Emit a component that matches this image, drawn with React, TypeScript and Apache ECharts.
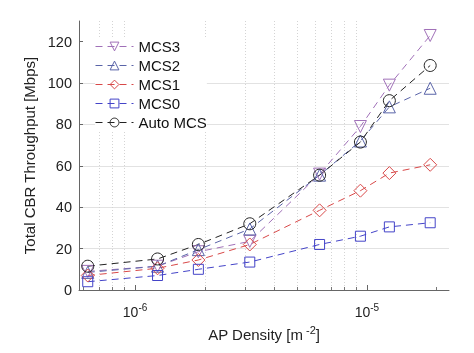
import React, { useEffect, useRef } from "react";
import * as echarts from "echarts";

const apDensity = [6.25e-7, 1.25e-6, 1.875e-6, 3.125e-6, 6.25e-6, 9.375e-6, 1.25e-5, 1.875e-5];
const mcs3 = [9, 11.5, 18.5, 23.5, 56, 79, 99, 123];
const mcs2 = [8.5, 11.5, 19.5, 29.5, 55.5, 72, 88.5, 97.5];
const mcs1 = [7, 10.5, 14.5, 22, 38.5, 48, 56.5, 60.5];
const mcs0 = [4, 7, 10, 13.5, 22, 26, 30.5, 32.5];
const autoMcs = [11.5, 15, 22, 32, 55.5, 71.5, 91.5, 108.5];

const seriesNames = ["MCS3", "MCS2", "MCS1", "MCS0", "Auto MCS"];
const yTicks = [0, 20, 40, 60, 80, 100, 120];
const xMajor = [1e-6, 1e-5];
const xMinor = [6e-7, 7e-7, 8e-7, 9e-7, 2e-6, 3e-6, 4e-6, 5e-6, 6e-6, 7e-6, 8e-6, 9e-6, 2e-5];

export default function App() {
  const ref = useRef<HTMLDivElement>(null);
  useEffect(() => {
    if (!ref.current) return;
    const chart = echarts.init(ref.current, undefined, { renderer: "svg" });
    const font = "Liberation Sans, Arial, sans-serif";
    const mk = (name: string, vals: number[], color: string, symbol: string, size: number, rot = 0) => ({
      name,
      type: "line",
      xAxisIndex: 0,
      data: apDensity.map((x, i) => [x, vals[i]]),
      symbol,
      symbolSize: size,
      symbolRotate: rot,
      lineStyle: { color, width: 1, type: [7, 5] },
      itemStyle: { color: "rgba(255,255,255,0)", borderColor: color, borderWidth: 1 },
      z: 3,
    });
    const xMin = 5.73e-7;
    const xMax = 2.26e-5;
    const option: any = {
      animation: false,
      grid: { left: 79, right: 25, top: 21, bottom: 63 },
      legend: {
        data: seriesNames,
        orient: "vertical",
        left: 95,
        top: 39,
        itemWidth: 38,
        itemHeight: 11,
        itemGap: 4,
        itemTextGap: 5,
        lineStyle: { width: 1 },
        itemStyle: { borderWidth: 1 },
        textStyle: { fontFamily: font, fontSize: 15, color: "#111" },
        backgroundColor: "#fff",
        padding: 0,
        z: 10,
      },
      xAxis: [
        {
          type: "log",
          logBase: 10,
          min: xMin,
          max: xMax,
          position: "bottom",
          name: "{a|AP Density [m}{s|-2}{a|]}",
          nameLocation: "middle",
          nameGap: 34,
          nameTextStyle: {
            fontFamily: font,
            color: "#222",
            rich: {
              a: { fontFamily: font, fontSize: 15, color: "#222" },
              s: { fontFamily: font, fontSize: 11, color: "#222", padding: [0, 0, 9, 3] },
            },
          },
          axisLine: { show: true, lineStyle: { color: "#666", width: 1 } },
          axisTick: {
            show: true,
            inside: true,
            length: 3,
            customValues: xMinor,
            lineStyle: { color: "#777" },
          },
          axisLabel: {
            customValues: xMajor,
            margin: 12,
            formatter: (v: number) => `{b|10}{s|${Math.round(Math.log10(v))}}`,
            rich: {
              b: { fontFamily: font, fontSize: 14, color: "#222" },
              s: { fontFamily: font, fontSize: 10, color: "#222", padding: [0, 0, 9, 0] },
            },
          },
          splitLine: {
            show: true,
            showMinLine: false,
            showMaxLine: false,
            lineStyle: { color: "#d4d4d4", type: [1, 2], width: 1 },
          },
          z: 0,
        },
        {
          type: "log",
          logBase: 10,
          min: xMin,
          max: xMax,
          position: "bottom",
          axisLine: { show: false },
          axisTick: { show: true, inside: true, length: 5, customValues: xMajor, lineStyle: { color: "#666" } },
          axisLabel: { show: false, customValues: xMajor },
          splitLine: {
            show: true,
            showMinLine: false,
            showMaxLine: false,
            lineStyle: { color: "#e0e0e0", type: "solid", width: 1 },
          },
          z: 1,
        },
      ],
      yAxis: {
        type: "value",
        min: 0,
        max: 130,
        interval: 20,
        name: "Total CBR Throughput [Mbps]",
        nameLocation: "middle",
        nameGap: 37,
        nameTextStyle: { fontFamily: font, fontSize: 15, color: "#222" },
        axisLine: { show: true, lineStyle: { color: "#666", width: 1 } },
        axisTick: { show: true, inside: true, length: 4, customValues: yTicks, lineStyle: { color: "#666" } },
        axisLabel: {
          customValues: yTicks,
          margin: 7,
          fontFamily: font,
          fontSize: 14.5,
          color: "#222",
        },
        splitLine: { show: true, showMaxLine: false, showMinLine: false, lineStyle: { color: "#e2e2e2", width: 1 } },
      },
      series: [
        mk("MCS3", mcs3, "#a070b8", "triangle", 12, 180),
        mk("MCS2", mcs2, "#5a64a8", "triangle", 12),
        mk("MCS1", mcs1, "#d84848", "diamond", 13),
        mk("MCS0", mcs0, "#4444c8", "rect", 10),
        mk("Auto MCS", autoMcs, "#222222", "circle", 12),
      ],
    };
    chart.setOption(option);
    return () => chart.dispose();
  }, []);
  return <div ref={ref} style={{ position: "fixed", left: 0, top: 0, width: 474, height: 353 }} />;
}
